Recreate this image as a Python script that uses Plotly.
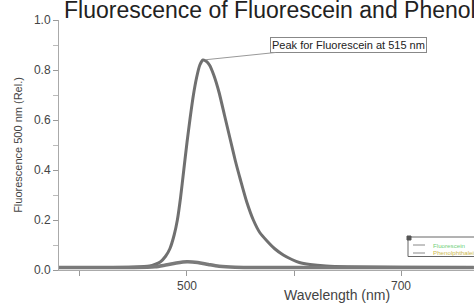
import plotly.graph_objects as go

# Data
wl_fluorescein = [380, 420, 450, 465, 470, 475, 480, 484, 488, 491, 494, 497, 500, 503,
                  506, 509, 512, 515, 518, 521, 525, 530, 535, 540, 545, 550, 556, 562,
                  568, 575, 582, 590, 598, 605, 615, 630, 650, 700, 768]
fluorescein = [0.010, 0.010, 0.012, 0.016, 0.022, 0.032, 0.055, 0.085, 0.14, 0.20, 0.29,
               0.40, 0.51, 0.61, 0.70, 0.77, 0.82, 0.84, 0.835, 0.82, 0.78, 0.71, 0.62,
               0.53, 0.44, 0.36, 0.27, 0.20, 0.15, 0.115, 0.085, 0.06, 0.042, 0.03,
               0.022, 0.016, 0.013, 0.011, 0.010]
wl_phenol = [380, 450, 470, 480, 490, 500, 510, 520, 530, 545, 600, 768]
phenolphthalein = [0.010, 0.010, 0.013, 0.020, 0.028, 0.033, 0.030, 0.022, 0.015,
                   0.011, 0.010, 0.010]

x_tickvals = [400, 500, 600, 700]
x_ticktext = ["", "500", "", "700"]
series_names = ["Fluorescein", "Phenolphthalein"]
legend_text_colors = ["#6fcf7a", "#cdb94e"]

FONT = "Liberation Sans, Arial, sans-serif"
LINE = "#707070"

fig = go.Figure()
fig.add_trace(go.Scatter(x=wl_fluorescein, y=fluorescein, mode="lines",
                         line=dict(color=LINE, width=3, shape="spline", smoothing=0.6),
                         name=series_names[0], showlegend=False, cliponaxis=False))
fig.add_trace(go.Scatter(x=wl_phenol, y=phenolphthalein, mode="lines",
                         line=dict(color="#7a7a7a", width=3.5, shape="spline", smoothing=0.8),
                         name=series_names[1], showlegend=False, cliponaxis=False))

L, R, T, B = 59, 0, 20, 33
W, H = 474, 303
pw = W - L - R
ph = H - T - B

def px_x(px):
    return (px - L) / pw

def px_y(py):
    return (H - B - py) / ph

fig.update_layout(
    width=W, height=H,
    margin=dict(l=L, r=R, t=T, b=B),
    paper_bgcolor="white", plot_bgcolor="white",
    font=dict(family=FONT, color="#444444"),
    title=dict(text="Fluorescence of Fluorescein and Phenolphthalein",
               font=dict(family=FONT, size=23, color="#222222"),
               xref="container", x=64 / W, xanchor="left",
               yref="container", y=1 - 10 / H, yanchor="middle"),
    xaxis=dict(range=[380.4, 768.2], tickvals=x_tickvals, ticktext=x_ticktext,
               ticks="outside", ticklen=5, tickcolor="#999999",
               showline=True, linecolor="#aaaaaa", showgrid=False, zeroline=False,
               tickfont=dict(size=12, color="#444444")),
    yaxis=dict(range=[0, 1.0], dtick=0.2, tickformat=".1f",
               ticks="outside", ticklen=5, tickcolor="#999999",
               minor=dict(dtick=0.1, ticks="outside", ticklen=5, tickcolor="#bbbbbb"),
               showline=True, linecolor="#aaaaaa", showgrid=False, zeroline=False,
               tickfont=dict(size=12, color="#444444"),
               title=dict(text="Fluorescence 500 nm (Rel.)", standoff=9,
                          font=dict(size=11, color="#444444"))),
    showlegend=False,
)

# x-axis title (plot area extends beyond the visible page in the reference)
fig.add_annotation(text="Wavelength (nm)", xref="paper", yref="paper",
                   x=px_x(337), y=px_y(295), xanchor="center", yanchor="middle",
                   showarrow=False, font=dict(size=14, color="#444444"))

# Peak callout
fig.add_annotation(x=515, y=0.84, xref="x", yref="y",
                   text="Peak for Fluorescein at 515 nm",
                   showarrow=True, arrowhead=0, arrowwidth=1, arrowcolor="#999999",
                   ax=145, ay=-15, standoff=3,
                   bordercolor="#888888", borderwidth=1, borderpad=1,
                   bgcolor="white", font=dict(size=11, color="#222222"))

# Manual legend (clipped by page edge as in reference)
fig.add_shape(type="rect", xref="paper", yref="paper",
              x0=px_x(408), x1=px_x(520), y0=px_y(256.5), y1=px_y(237),
              line=dict(color="#666666", width=1), fillcolor="white", layer="above")
fig.add_shape(type="rect", xref="paper", yref="paper",
              x0=px_x(407), x1=px_x(411), y0=px_y(240), y1=px_y(236),
              line=dict(color="#555555", width=1), fillcolor="#555555", layer="above")
for i, (name, col) in enumerate(zip(series_names, legend_text_colors)):
    yy = 245 + 8 * i
    fig.add_shape(type="line", xref="paper", yref="paper",
                  x0=px_x(413), x1=px_x(425), y0=px_y(yy), y1=px_y(yy),
                  line=dict(color="#888888", width=1), layer="above")
    fig.add_annotation(text=name, xref="paper", yref="paper",
                       x=px_x(431), y=px_y(yy), xanchor="left", yanchor="middle",
                       showarrow=False, font=dict(size=6.2, color=col))

fig.write_html("out.html")
